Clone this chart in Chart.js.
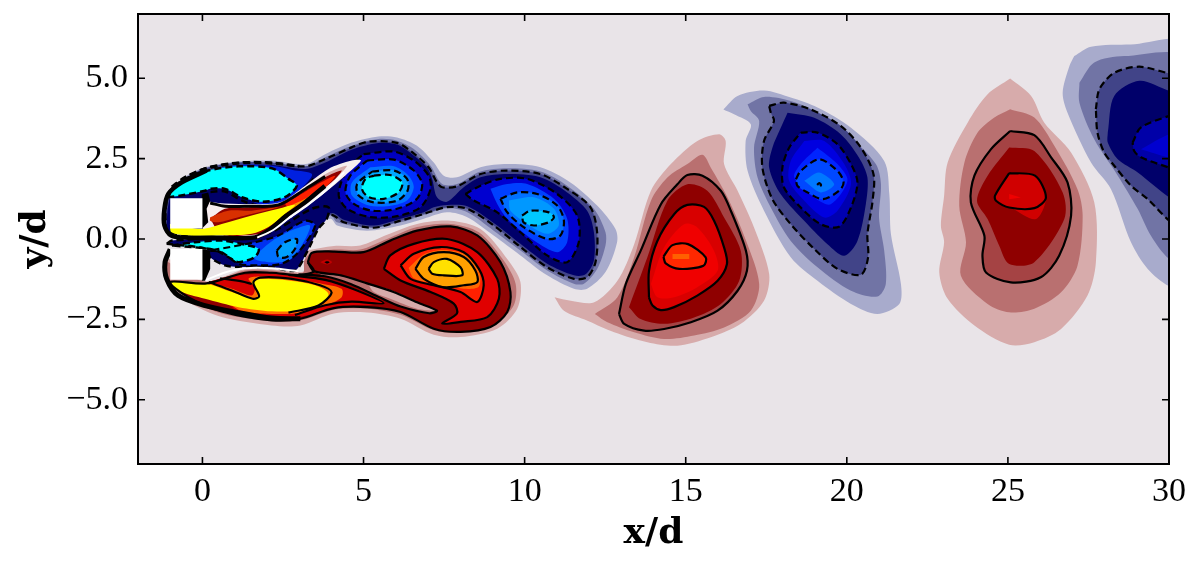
<!DOCTYPE html>
<html>
<head>
<meta charset="utf-8">
<script src="https://cdn.jsdelivr.net/npm/chart.js@4"></script>
<style>
  html, body { margin: 0; padding: 0; background: #fff; }
  canvas { display: block; }
</style>
</head>
<body>
<canvas id="wake" width="1200" height="564"></canvas>
<script>
// axis ticks
const xTicks = [0, 5, 10, 15, 20, 25, 30];
const xTickLabels = ['0', '5', '10', '15', '20', '25', '30'];
const yTicks = [-5, -2.5, 0, 2.5, 5];
const yTickLabels = ['\u22125.0', '\u22122.5', '0.0', '2.5', '5.0'];

// vorticity contours, in x/d, y/d
// red vortex near x/d = 15
const red15A = [[10.93,-1.81],[11.43,-1.92],[12.16,-1.97],[12.88,-1.30],[13.40,-0.16],[13.92,1.50],[14.54,2.33],[15.36,3.05],[16.04,3.26],[16.24,3.05],[16.19,2.33],[16.61,1.50],[17.12,0.36],[17.59,-1.09],[17.43,-1.92],[16.71,-2.64],[15.78,-3.06],[14.74,-3.32],[13.81,-3.21],[12.78,-2.90],[11.95,-2.54],[11.22,-2.23]];
const red15B = [[12.18,-2.33],[12.88,-1.81],[13.40,-0.57],[13.92,1.19],[14.43,1.91],[15.05,2.33],[15.52,2.62],[15.78,2.22],[16.30,1.29],[16.87,-0.05],[17.28,-1.40],[17.02,-2.23],[16.19,-2.75],[15.26,-3.0],[14.33,-3.11],[13.40,-2.90],[12.57,-2.59]];
const red15C = [[12.93,-2.33],[13.14,-1.40],[13.60,-0.37],[14.23,1.08],[14.74,1.70],[15.05,1.99],[15.52,1.97],[16.09,1.50],[16.40,0.88],[16.87,-0.37],[16.90,-0.99],[16.61,-1.61],[15.99,-2.23],[15.16,-2.59],[14.33,-2.80],[13.71,-2.85],[13.09,-2.64]];
const red15D = [[13.24,-2.12],[13.81,-0.57],[14.43,1.19],[15.05,1.70],[15.67,1.50],[16.19,0.67],[16.71,-0.37],[16.66,-1.30],[16.09,-2.02],[15.26,-2.44],[14.33,-2.64],[13.60,-2.49]];
const red15E = [[13.86,-1.82],[13.86,-0.99],[14.12,-0.06],[14.64,0.77],[15.05,1.06],[15.57,1.00],[15.88,0.57],[16.19,-0.26],[16.28,-0.78],[15.99,-1.30],[15.36,-1.76],[14.64,-2.12],[14.23,-2.21],[13.97,-2.07]];
const red15F = [[13.92,-1.40],[14.33,-0.26],[14.95,0.46],[15.36,0.36],[15.88,-0.37],[15.99,-0.99],[15.36,-1.50],[14.64,-1.81],[14.12,-1.81]];
const red15G = [[14.31,-0.55],[14.59,-0.19],[15.07,-0.16],[15.62,-0.57],[15.55,-0.83],[14.80,-0.93],[14.38,-0.76]];
const red15H = [[14.59,-0.47],[15.11,-0.47],[15.11,-0.62],[14.59,-0.62]];

// blue vortex near x/d = 19
const blue19A = [[16.17,4.03],[16.61,4.45],[17.43,4.62],[18.26,4.40],[19.09,4.09],[20.13,3.46],[21.16,2.43],[21.32,1.39],[21.37,0.15],[21.68,-1.40],[21.63,-2.02],[20.95,-2.33],[20.13,-2.02],[19.09,-1.30],[18.26,-0.57],[17.43,0.88],[16.92,2.12],[16.86,3.05],[17.02,3.57],[16.50,3.88]];
const blue19B = [[16.92,4.19],[17.43,4.42],[18.26,4.29],[19.09,3.93],[20.13,3.15],[20.90,2.33],[21.06,1.71],[21.0,0.67],[21.16,-0.36],[21.21,-1.40],[20.95,-1.79],[20.13,-1.61],[19.09,-0.88],[18.26,-0.06],[17.64,0.98],[17.23,1.91],[17.12,2.84],[17.28,3.67],[17.02,3.98]];
const blue19C = [[17.59,4.14],[18.05,4.24],[18.88,4.03],[19.81,3.52],[20.44,2.84],[20.83,2.01],[20.80,1.19],[20.64,0.15],[20.66,-0.57],[20.44,-1.11],[19.71,-0.93],[18.99,-0.31],[18.26,0.46],[17.69,1.24],[17.38,2.22],[17.43,3.05],[17.74,3.67],[17.64,3.93]];
const blue19D = [[18.16,3.93],[18.99,3.77],[19.81,3.26],[20.38,2.53],[20.64,1.91],[20.59,1.08],[20.33,-0.06],[19.92,-0.52],[19.40,-0.16],[18.78,0.46],[17.95,1.39],[17.59,2.22],[17.69,2.84],[17.95,3.46]];
const blue19E = [[18.57,3.31],[19.09,3.31],[19.71,2.95],[20.13,2.33],[20.33,1.76],[20.13,0.98],[19.76,0.38],[19.19,0.46],[18.57,0.98],[18.05,1.60],[18.0,2.22],[18.21,2.84]];
const blue19F = [[18.68,3.05],[19.30,3.05],[19.92,2.33],[20.13,1.70],[19.71,0.88],[19.30,0.67],[18.68,1.19],[18.21,1.81],[18.26,2.43]];
const blue19G = [[19.09,2.84],[19.71,2.33],[20.02,1.81],[19.50,1.08],[18.99,1.29],[18.37,1.91],[18.57,2.33]];
const blue19H = [[18.42,1.86],[18.57,2.12],[19.14,2.48],[19.71,2.12],[19.90,1.76],[19.76,1.50],[19.25,1.24],[18.78,1.45],[18.47,1.65]];
const blue19I = [[18.68,1.81],[19.14,2.07],[19.61,1.70],[19.19,1.45]];
const blue19J = [[19.08,1.68],[19.14,1.74],[19.2,1.68],[19.14,1.62]];

// red vortex near x/d = 25
const red25A = [[25.07,4.99],[25.72,4.45],[26.13,3.62],[26.96,2.69],[27.68,1.14],[27.73,-0.73],[27.47,-1.76],[26.65,-2.80],[25.82,-3.21],[25.04,-3.29],[23.96,-2.69],[23.13,-1.86],[22.87,-1.04],[23.02,-0.10],[22.92,0.41],[23.02,1.34],[23.13,2.38],[23.75,3.62],[24.37,4.50]];
const red25B = [[25.07,4.04],[25.82,3.78],[26.44,2.90],[27.16,1.55],[27.32,0.72],[27.16,-0.83],[26.65,-1.66],[25.82,-2.17],[25.04,-2.28],[24.37,-2.02],[23.54,-1.14],[23.70,-0.10],[23.49,1.03],[23.65,2.38],[24.06,3.31],[24.58,3.78]];
const red25C = [[25.07,3.36],[25.82,3.23],[26.34,2.54],[26.85,1.76],[26.96,0.72],[26.59,-0.52],[26.02,-1.19],[25.09,-1.35],[24.32,-1.04],[24.21,-0.52],[24.27,0.10],[23.85,1.14],[23.96,1.97],[24.47,2.79]];
const red25D = [[25.04,2.85],[25.82,2.74],[26.70,1.45],[26.75,0.62],[25.82,-0.72],[25.04,-0.78],[24.73,-0.21],[24.37,0.62],[24.04,1.19],[24.37,1.97]];
const red25E = [[25.07,2.07],[25.82,1.99],[26.18,1.29],[25.87,0.62],[25.09,0.98],[24.63,1.29]];
const red25F = [[25.04,2.05],[25.84,1.97],[26.18,1.29],[25.82,0.96],[25.04,0.98],[24.63,1.19],[24.60,1.35]];
const red25G = [[25.04,1.40],[25.40,1.29],[25.04,1.24]];

// blue vortex cut by the right edge
const blue30A = [[27.06,5.69],[27.58,5.98],[28.82,6.05],[30.48,6.05],[30.48,-1.50],[30.01,-1.47],[29.34,-0.93],[28.82,-0.10],[28.20,1.55],[27.58,2.38],[26.85,3.93],[26.70,4.55],[26.91,5.38]];
const blue30B = [[27.22,4.86],[27.68,5.49],[28.61,5.69],[30.48,5.59],[30.48,-0.62],[30.01,-0.62],[29.44,0.10],[29.03,0.93],[28.41,1.97],[27.68,3.10],[27.22,4.24]];
const blue30C = [[27.73,4.04],[27.84,4.66],[28.30,5.17],[29.08,5.36],[30.01,5.15],[30.48,5.07],[30.48,0.31],[30.01,0.57],[29.34,1.24],[28.82,1.66],[28.30,2.28],[27.99,2.69],[27.78,3.31]];
const blue30D = [[28.10,3.31],[28.30,4.45],[29.08,4.92],[30.01,4.61],[30.48,4.55],[30.48,1.03],[30.01,1.29],[29.03,2.07],[28.41,2.48],[28.10,3.0]];
const blue30E = [[28.87,3.0],[29.13,3.47],[30.01,3.83],[30.48,3.93],[30.48,2.07],[30.01,2.22],[29.13,2.54],[28.92,2.74]];
const blue30F = [[29.13,2.79],[30.01,3.26],[30.48,3.31],[30.48,2.48],[30.01,2.53]];

// upper shear layer with the two blue vortices at x/d = 6 and 10
const upperA = [[-1.18,0.94],[-1.06,1.45],[-0.64,1.87],[0.08,2.23],[1.12,2.41],[2.15,2.44],[3.19,2.33],[3.81,2.64],[4.63,3.0],[5.46,3.19],[6.04,3.16],[6.66,2.90],[7.18,2.38],[7.49,1.97],[7.90,1.92],[8.63,2.23],[9.46,2.33],[10.49,2.23],[11.42,1.76],[12.25,1.04],[12.82,0.31],[12.87,-0.10],[12.51,-1.03],[11.94,-1.55],[11.53,-1.55],[10.70,-1.13],[9.87,-0.51],[9.04,0.11],[8.22,0.68],[7.59,0.83],[6.87,0.63],[6.15,0.42],[5.11,0.26],[4.18,0.42],[3.97,0.63],[1.63,0.0],[-1.06,0.2],[-1.16,0.42]];
const upperB = [[-1.11,0.94],[-1.01,1.40],[-0.59,1.78],[0.08,2.16],[1.12,2.33],[2.15,2.36],[3.19,2.25],[3.81,2.54],[4.63,2.90],[5.46,3.11],[6.04,3.06],[6.56,2.80],[7.08,2.28],[7.44,1.71],[7.90,1.71],[8.63,2.10],[9.46,2.20],[10.49,2.10],[11.32,1.66],[12.15,0.94],[12.51,0.21],[12.51,-0.20],[12.25,-0.93],[11.84,-1.39],[11.53,-1.39],[10.70,-0.98],[9.87,-0.36],[9.04,0.26],[8.22,0.83],[7.59,0.96],[6.87,0.75],[6.15,0.52],[5.11,0.37],[4.18,0.52],[3.97,0.73],[1.63,0.03],[-1.06,0.2],[-1.14,0.5]];
const upperC = [[-1.14,0.94],[-1.04,1.45],[-0.59,1.85],[0.08,2.20],[1.12,2.38],[2.15,2.38],[3.19,2.26],[3.81,2.49],[4.63,2.85],[5.16,3.03],[6.04,2.99],[6.51,2.70],[7.02,2.23],[7.28,1.76],[7.44,1.61],[7.90,1.64],[8.63,2.02],[9.46,2.13],[10.49,2.02],[11.32,1.56],[12.04,0.99],[12.25,0.21],[12.20,-0.72],[11.94,-1.19],[11.53,-1.24],[10.70,-0.88],[9.87,-0.25],[9.04,0.42],[8.22,0.94],[7.59,0.99],[6.87,0.78],[6.15,0.57],[5.32,0.35],[4.39,0.52],[3.97,0.75],[1.63,0.05],[-1.06,0.2],[-1.14,0.6]];
const upperD = [[-1.08,0.94],[-0.95,1.45],[-0.54,1.76],[0.13,2.10],[1.12,2.28],[2.15,2.30],[3.19,2.18],[3.81,2.38],[4.63,2.78],[5.46,2.99],[6.04,2.94],[6.51,2.64],[6.97,2.23],[7.13,1.87],[7.28,1.30],[7.59,1.16],[8.11,1.61],[8.63,1.92],[9.46,2.02],[10.49,1.92],[11.32,1.45],[11.94,0.88],[12.15,0.21],[12.15,-0.67],[11.89,-1.10],[11.53,-1.13],[10.70,-0.77],[9.87,-0.15],[9.04,0.50],[8.22,1.02],[7.59,1.06],[7.18,0.99],[6.87,0.83],[6.15,0.63],[5.32,0.42],[4.39,0.60],[4.02,0.81],[1.63,0.11],[-1.06,0.21],[-1.1,0.6]];
const upperCyan = [[-1.04,1.35],[-0.95,1.56],[-0.54,1.87],[0.18,2.13],[1.12,2.26],[2.15,2.20],[2.67,1.87],[2.93,1.66],[2.56,1.30],[1.84,1.16],[1.22,1.30],[0.70,1.56],[0.24,1.56],[0.08,1.50],[-1.01,1.30]];
const upperBlue = [[0.2,1.56],[0.70,1.62],[1.22,1.38],[1.84,1.06],[2.56,1.18],[3.10,1.60],[3.40,2.02],[2.80,2.15],[2.15,2.28],[1.12,2.30],[0.3,2.1]];
const upperTopDash = [[-0.95,1.62],[-0.54,1.92],[0.13,2.20],[1.12,2.36],[2.15,2.36],[3.0,2.26]];
const upperCyanDash = [[0.25,1.46],[0.70,1.48],[1.22,1.20],[1.84,1.00],[2.56,1.08],[3.05,1.42],[3.45,1.88]];

const vortex6A = [[5.0,2.64],[5.94,2.72],[6.56,2.44],[7.02,1.97],[7.08,1.56],[6.77,0.99],[6.04,0.71],[5.21,0.68],[4.49,0.94],[4.23,1.35],[4.39,1.97],[4.70,2.38]];
const vortex6B = [[5.11,2.44],[5.94,2.47],[6.56,2.13],[6.82,1.71],[6.66,1.25],[6.04,0.94],[5.27,0.88],[4.70,1.09],[4.44,1.45],[4.59,1.97]];
const vortex6C = [[5.21,2.23],[5.94,2.26],[6.40,1.97],[6.56,1.61],[6.35,1.20],[5.73,1.02],[5.11,1.06],[4.64,1.35],[4.64,1.76]];
const vortex6D = [[5.27,2.10],[5.94,2.13],[6.35,1.87],[6.37,1.51],[6.04,1.19],[5.32,1.14],[4.85,1.35],[4.80,1.71]];
const vortex6E = [[5.32,1.97],[5.83,1.99],[6.20,1.76],[6.09,1.45],[5.63,1.25],[5.16,1.30],[4.95,1.56],[5.06,1.87]];

const vortex10A = [[8.16,1.40],[8.63,1.66],[9.25,1.87],[10.08,1.87],[11.01,1.40],[11.63,0.73],[11.68,-0.10],[11.32,-0.72],[10.70,-0.51],[9.87,0.21],[9.15,0.83],[8.42,1.20]];
const vortex10B = [[8.94,1.56],[9.46,1.71],[10.08,1.71],[10.91,1.25],[11.32,0.63],[11.32,-0.10],[11.01,-0.41],[10.29,-0.05],[9.46,0.63],[9.15,1.09]];
const vortex10C = [[9.25,1.25],[9.77,1.45],[10.39,1.40],[11.01,1.04],[11.22,0.57],[11.11,0.11],[10.70,0.0],[9.97,0.37],[9.46,0.83]];
const vortex10D = [[9.51,1.20],[10.29,1.30],[10.91,0.94],[11.06,0.42],[10.70,0.16],[10.08,0.47],[9.56,0.88]];
const vortex10E = [[9.92,0.73],[10.18,0.88],[10.75,0.83],[10.91,0.68],[10.75,0.52],[10.29,0.42],[9.97,0.52]];

// lower shear layer with the red vortex at x/d = 7.5
const lowerA = [[3.25,-0.36],[4.08,-0.22],[4.90,-0.20],[5.73,0.13],[6.66,0.47],[7.70,0.57],[8.63,0.31],[9.46,-0.62],[9.87,-1.34],[9.77,-2.17],[9.15,-2.79],[8.01,-3.05],[7.18,-2.98],[6.15,-2.48],[5.11,-2.29],[4.08,-2.32],[3.04,-2.69],[2.15,-2.69],[0.60,-2.43],[-0.44,-1.96],[-1.06,-1.44],[-1.21,-0.72],[-1.1,-0.6],[-0.5,-0.9],[0.13,-1.32],[1.32,-0.93],[2.15,-0.93],[2.98,-1.03],[3.20,-0.98],[3.20,-0.67]];
const lowerB = [[3.35,-0.43],[4.08,-0.33],[4.90,-0.33],[5.73,0.0],[6.66,0.37],[7.70,0.47],[8.58,0.21],[9.35,-0.67],[9.72,-1.39],[9.66,-2.07],[9.09,-2.63],[8.01,-2.91],[7.18,-2.84],[6.15,-2.36],[5.11,-2.17],[4.08,-2.20],[3.04,-2.53],[2.15,-2.56],[0.60,-2.32],[-0.44,-1.86],[-1.01,-1.36],[-1.14,-0.72],[-0.9,-0.8],[0.13,-1.34],[1.32,-0.98],[2.15,-0.98],[2.98,-1.08],[3.14,-1.03],[3.16,-0.67]];
const lowerC = [[3.27,-0.72],[3.40,-0.43],[4.08,-0.39],[5.0,-0.41],[5.83,-0.05],[6.66,0.26],[7.70,0.39],[8.53,0.11],[9.25,-0.72],[9.56,-1.65],[9.46,-2.27],[8.94,-2.74],[8.01,-2.89],[7.18,-2.79],[6.15,-2.27],[5.11,-2.12],[4.08,-2.15],[3.04,-2.48],[2.15,-2.53],[0.60,-2.25],[-0.44,-1.81],[-1.01,-1.34],[0.13,-1.38],[1.32,-1.05],[2.15,-1.05],[3.0,-1.12],[3.46,-1.0]];
const lowerGapOuter = [[3.46,-1.02],[4.30,-1.13],[5.11,-1.38],[5.93,-1.65],[6.66,-1.97],[7.28,-2.23],[7.04,-2.31],[6.15,-2.10],[5.53,-1.83],[4.60,-1.40],[3.8,-1.16]];
const lowerGapInner = [[5.16,-1.44],[5.73,-1.55],[6.56,-1.91],[7.23,-2.22],[6.66,-2.17],[5.83,-1.86],[5.32,-1.65]];
const lowerRed = [[0.24,-1.32],[1.01,-1.13],[2.67,-1.11],[3.81,-1.29],[4.74,-1.55],[5.62,-2.0],[4.63,-2.07],[3.81,-2.22],[2.98,-2.43],[2.15,-2.43],[1.12,-2.27]];
const lowerOrange = [[0.13,-1.34],[0.91,-1.55],[1.53,-1.76],[1.63,-1.50],[1.43,-1.24],[1.74,-1.17],[2.67,-1.22],[3.70,-1.39],[4.32,-1.55],[4.32,-1.81],[3.81,-2.07],[2.98,-2.30],[2.15,-2.33],[1.12,-2.20]];
const lowerYellow = [[-1.01,-1.32],[0.13,-1.39],[0.91,-1.65],[1.63,-1.86],[1.74,-1.65],[1.53,-1.34],[1.79,-1.24],[2.67,-1.29],[3.50,-1.44],[3.91,-1.70],[3.70,-2.01],[3.08,-2.22],[2.15,-2.25],[1.12,-2.12],[0.08,-1.86],[-0.75,-1.60]];

const vortex7B = [[5.63,-0.93],[5.83,-0.51],[6.56,-0.15],[7.59,0.0],[8.53,-0.41],[9.15,-1.24],[9.20,-1.86],[8.84,-2.43],[8.01,-2.58],[7.44,-2.63],[7.90,-2.32],[7.80,-2.01],[7.08,-1.65],[6.15,-1.29]];
const vortex7C = [[6.15,-0.82],[6.56,-0.46],[7.39,-0.25],[8.11,-0.41],[8.58,-0.93],[8.73,-1.44],[8.53,-1.96],[8.01,-1.65],[7.18,-1.44],[6.46,-1.24]];
const vortex7Ring = [[6.40,-0.90],[6.87,-0.48],[7.49,-0.34],[8.21,-0.50],[8.58,-0.97],[8.58,-1.48],[8.11,-1.55],[7.18,-1.38],[6.56,-1.22]];
const vortex7D = [[6.61,-0.93],[6.87,-0.56],[7.49,-0.41],[8.11,-0.56],[8.47,-0.98],[8.53,-1.34],[8.11,-1.44],[7.49,-1.50],[6.87,-1.24]];
const vortex7E = [[7.02,-0.93],[7.18,-0.72],[7.59,-0.62],[8.01,-0.88],[8.06,-1.13],[7.49,-1.13],[7.13,-1.08]];
const tailEye = [[3.66,-0.72],[3.87,-0.64],[4.02,-0.72],[3.87,-0.79]];
const tailDot = [[3.78,-0.72],[3.87,-0.69],[3.95,-0.72],[3.87,-0.76]];

// blue vortex trapped between the shear layers
const lowerBlueA = [[-1.11,-0.15],[-0.95,-0.05],[0.60,0.03],[1.63,0.06],[2.36,0.32],[3.39,0.94],[3.91,0.99],[3.86,0.63],[3.60,0.32],[3.24,-0.41],[2.87,-0.98],[2.15,-0.88],[1.32,-0.88],[0.70,-0.82],[0.24,-0.57],[0.13,-0.31]];
const lowerBlueB = [[0.24,-0.36],[0.60,-0.41],[1.12,-0.77],[1.74,-0.82],[2.46,-0.77],[2.98,-0.41],[3.50,0.42],[3.19,0.57],[2.36,0.11],[1.63,-0.10]];
const lowerBlueC = [[1.74,-0.41],[2.25,0.0],[2.87,0.31],[3.34,0.42],[3.08,-0.20],[2.67,-0.67],[2.05,-0.72],[1.63,-0.62]];
const lowerBlueD = [[2.31,-0.36],[2.56,-0.10],[2.93,0.0],[2.87,-0.31],[2.62,-0.56],[2.36,-0.56]];
const lowerCyan = [[-0.95,-0.20],[-0.23,-0.10],[0.60,-0.05],[1.43,-0.20],[1.74,-0.31],[1.63,-0.56],[1.12,-0.72],[0.80,-0.56],[0.44,-0.36],[0.08,-0.29]];

// red and yellow layer under the upper cylinder
const upperHalo = [[0.08,1.19],[0.49,1.12],[1.43,1.09],[2.41,1.14],[3.19,1.66],[3.91,2.18],[4.63,2.44],[4.92,2.44],[4.43,1.97],[3.81,1.45],[3.19,0.99],[2.46,0.47],[1.94,0.11],[1.58,0.06],[0.08,0.21]];
const upperPink = [[2.46,1.04],[3.29,1.66],[3.91,2.07],[4.48,2.28],[4.22,1.97],[3.60,1.45],[2.98,0.99],[2.56,0.68]];
const upperDark = [[0.24,0.63],[0.70,0.94],[1.43,0.99],[2.36,1.04],[3.19,1.51],[3.81,1.92],[4.32,2.13],[4.12,1.87],[3.60,1.45],[2.98,0.99],[2.46,0.63],[1.94,0.21],[1.58,0.13],[0.60,0.13]];
const upperRed = [[2.56,1.09],[3.50,1.66],[4.12,1.97],[3.81,1.61],[3.29,1.30],[2.77,0.88]];
const upperOrange = [[2.62,0.99],[3.19,1.25],[3.39,1.40],[3.08,1.09],[2.67,0.83]];
const upperFan = [[0.24,0.68],[0.80,0.88],[1.53,0.88],[2.36,0.99],[1.12,0.68],[0.49,0.52],[0.24,0.57]];
const upperYellow = [[-1.01,0.47],[-0.02,0.32],[0.60,0.47],[1.53,0.73],[2.36,0.94],[2.87,1.06],[2.56,0.78],[2.05,0.37],[1.53,0.16],[0.60,0.11],[-0.44,0.11],[-0.96,0.21]];

// merged contour bands close to the cylinders
const upperBandLeft = [[0.13,2.13],[-0.64,1.76],[-1.06,1.40],[-1.18,0.94],[-1.18,0.42],[-0.97,0.11],[-0.44,0.04],[0.60,0.04],[1.63,0.05],[2.10,0.30],[2.60,0.72],[3.20,1.15],[3.80,1.65]];
const upperFanTop = [[0.24,1.12],[0.70,1.02],[1.43,1.02],[2.36,1.06],[3.19,1.55],[3.81,1.94]];
const lowerBandLeft = [[-1.0,-0.32],[-1.16,-0.72],[-1.11,-1.24],[-0.75,-1.76],[0.08,-2.07],[1.12,-2.29],[2.15,-2.46],[3.04,-2.48]];
const lowerFanA = [[0.20,-1.34],[0.91,-1.60],[1.56,-1.86],[1.76,-1.78],[1.58,-1.36],[1.79,-1.20],[2.77,-1.24],[3.65,-1.44],[4.01,-1.66],[3.60,-2.07],[2.67,-2.29]];
const lowerFanB = [[0.55,-1.22],[1.22,-1.32],[1.53,-1.40]];
const lowerFanC = [[2.67,-1.12],[3.81,-1.27],[4.74,-1.58],[5.62,-2.0],[4.63,-1.95],[3.81,-2.06],[2.87,-2.36]];
const lowerGapLine = [[3.27,-0.72],[3.46,-1.0],[4.30,-1.13],[5.11,-1.38],[5.93,-1.65],[6.66,-1.97],[7.28,-2.23],[7.04,-2.31],[6.15,-2.10],[5.53,-1.83],[4.60,-1.40],[3.8,-1.16],[2.98,-1.10]];
const wakeWhiteLower = [[0.10,-1.28],[0.70,-1.04],[1.32,-0.91],[2.15,-0.91],[2.98,-1.0]];
const wakeWhiteUpper = [[1.70,0.04],[2.20,0.28],[2.70,0.66],[3.30,1.08],[3.95,1.62],[4.40,2.08]];
const backUpper = [[-0.02,1.40],[0.18,1.45],[0.24,1.19],[0.13,0.94],[0.18,0.52],[-0.02,0.32]];
const backLower = [[-0.02,-0.31],[0.24,-0.36],[0.24,-0.93],[0.08,-1.30],[-0.02,-1.30]];

// the two square cylinders
const cylinderUpper = [[-1,1.27],[0,1.27],[0,0.33],[-1,0.33]];
const cylinderLower = [[-1,-0.31],[0,-0.31],[0,-1.27],[-1,-1.27]];

const background = '#e9e4e8';
const redA = '#d7abab', redB = '#b97070', redC = '#a54344', redD = '#8f0000';
const blueA = '#a8abcc', blueB = '#7174a5', blueC = '#414488', blueD = '#00006a';

const layers = [];
const area = (points, color, tension = 0.3) => layers.push({ points, color, tension });
const contour = (points, dashed = false, width = 2.2, closed = true) => layers.push({ points, line: '#000', dashed, width, closed, tension: 0.3 });

// far field
area(red15A, redA); area(red15B, redB); area(red15C, redC); area(red15D, redD); area(red15E, '#d80000'); area(red15F, '#f00000'); area(red15G, '#ff2800'); area(red15H, '#ff6000', 0);
contour(red15C); contour(red15E); contour(red15G);
area(blue19A, blueA); area(blue19B, blueB); area(blue19C, blueC); area(blue19D, blueD); area(blue19E, '#0000b0'); area(blue19F, '#0000e0'); area(blue19G, '#0024ff'); area(blue19H, '#0048ff'); area(blue19I, '#0078ff');
contour(blue19C, true); contour(blue19E, true); contour(blue19H, true); contour(blue19J, true);
area(red25A, redA); area(red25B, redB); area(red25C, redC); area(red25D, redD); area(red25F, '#c80000'); area(red25E, '#d00000'); area(red25G, '#f00000', 0);
contour(red25C); contour(red25F);
area(blue30A, blueA); area(blue30B, blueB); area(blue30C, blueC); area(blue30D, blueD); area(blue30E, '#0000a8'); area(blue30F, '#0000d0');
contour(blue30C, true); contour(blue30E, true);

// near wake, upper layer
area(upperA, blueA); area(upperB, blueB); area(upperC, blueC); area(upperD, blueD);
area(vortex6A, '#0000c0'); area(vortex6B, '#0030ff'); area(vortex6C, '#0070ff'); area(vortex6D, '#00a8ff'); area(vortex6E, '#00ffff');
area(vortex10A, '#0000d0'); area(vortex10B, '#0040ff'); area(vortex10C, '#0070ff'); area(vortex10D, '#0098ff'); area(vortex10E, '#00c8ff');
area(upperBlue, '#0020e0'); area(upperCyan, '#00ffff');
contour(upperC, true); contour(vortex6A, true); contour(vortex6B, true); contour(vortex6D, true); contour(vortex6E, true);
contour(vortex10A, true); contour(vortex10C, true); contour(vortex10E, true);
contour(upperCyan, true, 2.5); contour(upperTopDash, true, 3, false); contour(upperCyanDash, true, 2.5, false);

// near wake, lower layer
area(lowerA, redA); area(lowerB, redB); area(lowerC, redD);
area(lowerGapOuter, redB); area(lowerGapInner, redA);
area(lowerRed, '#d80000'); area(lowerOrange, '#ff7000'); area(lowerYellow, '#ffff00');
area(vortex7B, '#e00000'); area(vortex7C, '#ff2000'); area(vortex7Ring, '#ff6800'); area(vortex7D, '#ffa000'); area(vortex7E, '#ffe000');
area(tailEye, '#c00000'); area(tailDot, '#000');
contour(lowerC); contour(lowerGapLine, false, 2.2, false); contour(vortex7B); contour(vortex7C); contour(vortex7D); contour(vortex7E);
contour(lowerFanA, false, 2.2, false); contour(lowerFanB, false, 2.2, false); contour(lowerFanC, false, 2.2, false);
contour(lowerBandLeft, false, 5, false);

// trapped vortex and the red layer of the upper cylinder
area(lowerBlueA, blueD); area(lowerBlueB, '#0030f0'); area(lowerBlueC, '#0070ff'); area(lowerBlueD, '#00a0ff'); area(lowerCyan, '#00ffff');
contour(lowerBlueA, true, 2.5); contour(lowerBlueB, true); contour(lowerBlueD, true); contour(lowerCyan, true, 2.5);
area(upperHalo, '#f7edef'); area(upperPink, redA); area(upperDark, redD); area(upperRed, '#ff2000'); area(upperOrange, '#ff9000'); area(upperFan, '#d83000'); area(upperYellow, '#ffff00');
contour(upperFanTop, false, 3, false); contour(upperBandLeft, false, 4.5, false);
layers.push({ points: wakeWhiteLower, line: '#fff', width: 2, closed: false, tension: 0.3 });
layers.push({ points: wakeWhiteUpper, line: '#fff', width: 2, closed: false, tension: 0.3 });
area(backUpper, '#000', 0); area(backLower, '#000', 0);
area(cylinderUpper, '#fff', 0); area(cylinderLower, '#fff', 0);

// chart.js paints the first dataset on top, so the paint list is reversed
const datasets = layers.map((layer) => {
  const pts = layer.points.map(([x, y]) => ({ x, y }));
  if (layer.closed !== false) pts.push(pts[0]);
  return {
    data: pts,
    showLine: true,
    tension: layer.tension,
    pointRadius: 0,
    fill: layer.line ? false : 'shape',
    backgroundColor: layer.color,
    borderColor: layer.line || 'rgba(0,0,0,0)',
    borderWidth: layer.line ? layer.width : 0,
    borderDash: layer.dashed ? [7, 4] : [],
    borderJoinStyle: 'round'
  };
}).reverse();

const plotFrame = {
  id: 'plotFrame',
  beforeDatasetsDraw(chart) {
    const { ctx, chartArea: a } = chart;
    ctx.fillStyle = background;
    ctx.fillRect(a.left, a.top, a.width, a.height);
  },
  afterDatasetsDraw(chart) {
    const { ctx, chartArea: a, scales } = chart;
    ctx.save();
    ctx.strokeStyle = '#000';
    ctx.lineWidth = 1.6;
    ctx.beginPath();
    xTicks.forEach((v) => {
      const px = scales.x.getPixelForValue(v);
      ctx.moveTo(px, a.bottom); ctx.lineTo(px, a.bottom - 7);
      ctx.moveTo(px, a.top); ctx.lineTo(px, a.top + 7);
    });
    yTicks.forEach((v) => {
      const py = scales.y.getPixelForValue(v);
      ctx.moveTo(a.left, py); ctx.lineTo(a.left + 7, py);
      ctx.moveTo(a.right, py); ctx.lineTo(a.right - 7, py);
    });
    ctx.stroke();
    ctx.lineWidth = 2;
    ctx.strokeRect(a.left, a.top, a.width, a.height);
    ctx.restore();
  }
};

new Chart(document.getElementById('wake'), {
  type: 'scatter',
  data: { datasets },
  plugins: [plotFrame],
  options: {
    responsive: false,
    animation: false,
    devicePixelRatio: 1,
    layout: { padding: { left: 0, right: 31, top: 14, bottom: 0 } },
    plugins: { legend: { display: false }, tooltip: { enabled: false } },
    events: [],
    scales: {
      x: {
        type: 'linear', min: -2, max: 30,
        grid: { display: false, drawTicks: false },
        border: { display: false },
        afterBuildTicks: (s) => { s.ticks = xTicks.map((value) => ({ value })); },
        afterFit: (s) => { s.height = 100; s.paddingLeft = 0; s.paddingRight = 0; },
        ticks: {
          padding: 8, color: '#000', maxRotation: 0, autoSkip: false,
          font: { family: 'Liberation Serif', size: 34 },
          callback: (v) => xTickLabels[xTicks.indexOf(v)]
        },
        title: { display: true, text: 'x/d', color: '#000', font: { family: 'DejaVu Serif', size: 36, weight: 'bold' }, padding: { top: 0, bottom: 9 } }
      },
      y: {
        type: 'linear', min: -7, max: 7,
        grid: { display: false, drawTicks: false },
        border: { display: false },
        afterBuildTicks: (s) => { s.ticks = yTicks.map((value) => ({ value })); },
        afterFit: (s) => { s.width = 138; s.paddingTop = 0; s.paddingBottom = 0; },
        ticks: {
          padding: 10, color: '#000', autoSkip: false,
          font: { family: 'Liberation Serif', size: 34 },
          callback: (v) => yTickLabels[yTicks.indexOf(v)]
        },
        title: { display: true, text: 'y/d', color: '#000', font: { family: 'DejaVu Serif', size: 36, weight: 'bold' }, padding: { top: 14, bottom: 0 } }
      }
    }
  }
});
</script>
</body>
</html>
